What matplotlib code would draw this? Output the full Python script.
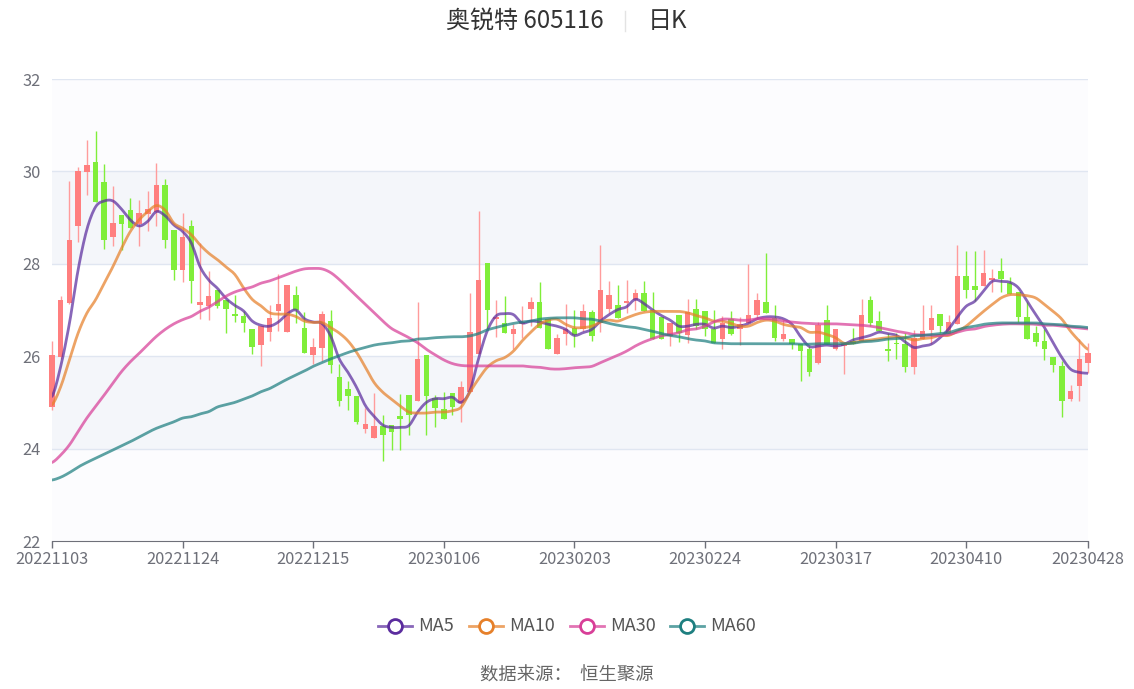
import matplotlib
matplotlib.use('Agg')
import matplotlib.pyplot as plt
from matplotlib.lines import Line2D
import numpy as np
import pandas as pd

plt.rcParams['font.family'] = ['Noto Sans CJK SC', 'DejaVu Sans']

# trading calendar (SSE holidays removed)
holidays = ['2023-01-02', '2023-01-23', '2023-01-24', '2023-01-25',
            '2023-01-26', '2023-01-27', '2023-04-05']
days = pd.bdate_range('2022-11-03', '2023-04-28')
days = days[~days.isin(pd.to_datetime(holidays))]
date_labels = [d.strftime('%Y%m%d') for d in days]

# daily K: open, high, low, close
opens = [24.91, 25.98, 27.16, 28.81, 29.99, 30.20, 29.77, 28.59, 29.05, 29.16,
         28.87, 29.08, 29.13, 29.71, 28.74, 27.86, 28.82, 27.11, 27.08, 27.44,
         27.22, 26.91, 26.88, 26.58, 26.24, 26.53, 26.98, 26.53, 27.32, 26.62,
         26.02, 26.17, 26.76, 25.54, 25.30, 25.14, 24.42, 24.24, 24.50, 24.51,
         24.70, 25.15, 25.02, 26.02, 25.10, 24.86, 25.20, 24.99, 25.23, 26.04,
         28.01, 26.81, 26.71, 26.49, 26.70, 27.03, 27.17, 26.80, 26.04, 26.47,
         26.62, 26.58, 26.95, 26.72, 27.03, 27.10, 27.15, 27.21, 27.37, 27.01,
         26.85, 26.44, 26.90, 26.45, 27.02, 26.97, 26.59, 26.38, 26.81, 26.58,
         26.71, 26.90, 27.17, 26.83, 26.38, 26.38, 26.26, 26.16, 25.86, 26.78,
         26.16, 26.22, 26.33, 26.33, 27.21, 26.76, 26.16, 26.28, 26.26, 25.76,
         26.37, 26.56, 26.92, 26.47, 26.69, 27.73, 27.53, 27.53, 27.66, 27.84,
         27.58, 27.40, 26.85, 26.51, 26.33, 25.99, 25.78, 25.08, 25.35, 25.85]
highs = [26.32, 27.31, 29.80, 30.09, 30.69, 30.87, 30.16, 29.68, 29.05, 29.42,
         29.39, 29.57, 30.18, 29.83, 28.74, 29.10, 28.95, 28.45, 27.85, 27.44,
         27.22, 27.32, 26.98, 26.58, 26.65, 27.10, 27.79, 27.55, 27.53, 26.96,
         26.40, 26.98, 27.00, 25.83, 25.47, 25.14, 24.87, 25.20, 24.73, 24.51,
         25.19, 25.15, 27.17, 26.02, 25.16, 25.23, 25.20, 25.47, 27.37, 29.14,
         28.01, 27.21, 27.30, 26.69, 27.08, 27.28, 27.60, 26.80, 26.47, 27.12,
         27.01, 27.12, 27.01, 28.41, 27.62, 27.55, 27.66, 27.46, 27.62, 27.40,
         26.85, 26.72, 26.90, 27.23, 27.24, 26.97, 27.00, 26.87, 26.97, 26.85,
         28.00, 27.37, 28.23, 27.10, 26.78, 26.38, 26.26, 26.22, 26.74, 27.10,
         26.58, 26.26, 26.62, 27.24, 27.31, 26.97, 26.51, 26.51, 26.51, 26.57,
         27.10, 27.10, 26.92, 26.90, 28.41, 28.27, 28.27, 28.29, 27.89, 28.12,
         27.71, 27.40, 27.17, 26.65, 26.58, 25.99, 25.90, 25.38, 26.37, 26.29]
lows = [24.84, 25.95, 27.14, 28.48, 29.49, 29.33, 28.32, 28.39, 28.30, 28.77,
        28.39, 28.70, 28.81, 28.34, 27.65, 27.60, 27.16, 26.81, 26.79, 27.04,
        26.51, 26.73, 26.53, 26.04, 25.79, 26.33, 26.55, 26.53, 26.71, 26.06,
        25.83, 25.90, 25.63, 24.93, 24.84, 24.53, 24.34, 24.24, 23.74, 23.96,
        23.96, 24.30, 25.02, 24.29, 24.47, 24.65, 24.72, 24.57, 25.23, 26.04,
        26.58, 26.42, 26.51, 26.16, 26.40, 26.65, 26.62, 26.15, 26.04, 26.24,
        26.19, 26.54, 26.33, 26.52, 26.94, 26.83, 26.94, 27.01, 26.97, 26.37,
        26.38, 26.22, 26.31, 26.29, 26.59, 26.44, 26.28, 26.15, 26.45, 26.24,
        26.71, 26.80, 26.94, 26.33, 26.33, 26.16, 25.47, 25.58, 25.83, 26.26,
        26.14, 25.61, 26.26, 26.33, 26.65, 26.54, 25.90, 25.94, 25.65, 25.61,
        26.37, 26.26, 26.51, 26.47, 26.69, 27.26, 27.19, 27.53, 27.40, 27.40,
        27.35, 26.74, 26.38, 26.22, 25.92, 25.66, 24.68, 25.04, 25.02, 25.63]
closes = [26.03, 27.22, 28.52, 30.00, 30.14, 29.33, 28.52, 28.88, 28.87, 28.77,
          29.10, 29.18, 29.71, 28.52, 27.86, 28.59, 27.62, 27.18, 27.31, 27.08,
          27.03, 26.87, 26.71, 26.19, 26.65, 26.83, 27.14, 27.55, 27.01, 26.06,
          26.19, 26.91, 25.81, 25.04, 25.13, 24.57, 24.53, 24.48, 24.30, 24.35,
          24.65, 24.72, 25.95, 25.13, 24.87, 24.65, 24.90, 25.33, 26.53, 27.66,
          27.00, 26.85, 26.51, 26.59, 26.74, 27.17, 26.62, 26.15, 26.40, 26.58,
          26.45, 26.97, 26.44, 27.43, 27.33, 26.83, 27.19, 27.37, 26.97, 26.37,
          26.38, 26.72, 26.51, 26.95, 26.65, 26.58, 26.28, 26.71, 26.47, 26.69,
          26.90, 27.21, 26.94, 26.40, 26.49, 26.26, 26.11, 25.66, 26.67, 26.26,
          26.58, 26.26, 26.26, 26.90, 26.72, 26.54, 26.11, 26.26, 25.76, 26.40,
          26.54, 26.83, 26.65, 26.74, 27.73, 27.44, 27.43, 27.81, 27.69, 27.67,
          27.35, 26.85, 26.38, 26.31, 26.16, 25.81, 25.02, 25.25, 25.94, 26.06]

ma5 = [25.13, 25.78, 26.71, 27.87, 28.74, 29.23, 29.36, 29.36, 29.18, 28.95,
       28.82, 28.92, 29.13, 29.04, 28.84, 28.70, 28.45, 27.94, 27.65, 27.47,
       27.25, 27.10, 26.98, 26.76, 26.67, 26.65, 26.74, 26.91, 27.00, 26.81,
       26.74, 26.71, 26.44, 25.94, 25.65, 25.32, 24.93, 24.70, 24.51, 24.46,
       24.46, 24.50, 24.79, 25.00, 25.08, 25.08, 25.11, 25.00, 25.25, 25.95,
       26.55, 26.87, 26.92, 26.90, 26.72, 26.76, 26.74, 26.69, 26.65, 26.58,
       26.45, 26.51, 26.58, 26.76, 26.90, 27.01, 27.07, 27.23, 27.14, 27.00,
       26.88, 26.78, 26.65, 26.65, 26.69, 26.69, 26.61, 26.65, 26.62, 26.65,
       26.71, 26.81, 26.85, 26.85, 26.81, 26.69, 26.42, 26.21, 26.22, 26.24,
       26.22, 26.26, 26.35, 26.40, 26.45, 26.52, 26.49, 26.45, 26.31, 26.19,
       26.22, 26.26, 26.40, 26.59, 26.85, 27.08, 27.19, 27.41, 27.62, 27.62,
       27.60, 27.48, 27.19, 26.90, 26.62, 26.29, 25.97, 25.72, 25.65, 25.63]
ma10 = [24.95, 25.34, 25.92, 26.50, 26.93, 27.22, 27.58, 27.94, 28.34, 28.70,
        28.95, 29.13, 29.26, 29.16, 28.88, 28.77, 28.63, 28.41, 28.23, 28.09,
        27.93, 27.77, 27.48, 27.23, 27.09, 26.94, 26.91, 26.91, 26.86, 26.76,
        26.73, 26.73, 26.62, 26.50, 26.33, 26.08, 25.76, 25.43, 25.22, 25.07,
        24.92, 24.79, 24.77, 24.77, 24.79, 24.79, 24.82, 24.90, 25.22, 25.51,
        25.76, 25.90, 25.97, 26.11, 26.33, 26.52, 26.69, 26.78, 26.80, 26.69,
        26.62, 26.62, 26.65, 26.74, 26.78, 26.76, 26.83, 26.90, 26.95, 26.97,
        26.97, 26.97, 26.97, 26.94, 26.88, 26.83, 26.76, 26.76, 26.71, 26.65,
        26.65, 26.73, 26.78, 26.76, 26.69, 26.65, 26.62, 26.52, 26.52, 26.47,
        26.40, 26.28, 26.29, 26.33, 26.35, 26.38, 26.40, 26.42, 26.40, 26.35,
        26.38, 26.40, 26.45, 26.45, 26.54, 26.65, 26.81, 26.97, 27.12, 27.26,
        27.33, 27.33, 27.31, 27.26, 27.12, 26.97, 26.80, 26.54, 26.33, 26.15]
ma30 = [23.70, 23.86, 24.08, 24.37, 24.66, 24.91, 25.16, 25.42, 25.67, 25.88,
        26.06, 26.25, 26.43, 26.58, 26.70, 26.79, 26.86, 26.97, 27.06, 27.18,
        27.30, 27.39, 27.45, 27.50, 27.58, 27.63, 27.70, 27.77, 27.84, 27.89,
        27.90, 27.89, 27.81, 27.66, 27.48, 27.30, 27.12, 26.94, 26.76, 26.60,
        26.50, 26.40, 26.29, 26.15, 26.03, 25.92, 25.84, 25.80, 25.79, 25.79,
        25.79, 25.79, 25.79, 25.79, 25.79, 25.77, 25.76, 25.73, 25.72, 25.73,
        25.75, 25.76, 25.78, 25.86, 25.94, 26.02, 26.11, 26.22, 26.31, 26.38,
        26.44, 26.47, 26.51, 26.57, 26.59, 26.65, 26.74, 26.80, 26.80, 26.78,
        26.78, 26.81, 26.81, 26.80, 26.76, 26.74, 26.72, 26.71, 26.70, 26.70,
        26.70, 26.69, 26.68, 26.67, 26.65, 26.62, 26.58, 26.54, 26.51, 26.47,
        26.46, 26.45, 26.45, 26.47, 26.52, 26.57, 26.59, 26.64, 26.67, 26.69,
        26.70, 26.70, 26.70, 26.69, 26.67, 26.67, 26.65, 26.63, 26.61, 26.59]
ma60 = [23.32, 23.38, 23.48, 23.60, 23.70, 23.79, 23.88, 23.97, 24.06, 24.15,
        24.25, 24.35, 24.44, 24.51, 24.58, 24.66, 24.69, 24.75, 24.80, 24.90,
        24.95, 25.00, 25.07, 25.14, 25.23, 25.30, 25.40, 25.50, 25.59, 25.68,
        25.78, 25.86, 25.94, 26.01, 26.08, 26.14, 26.19, 26.24, 26.27, 26.29,
        26.32, 26.33, 26.37, 26.38, 26.40, 26.41, 26.42, 26.42, 26.44, 26.49,
        26.57, 26.62, 26.67, 26.71, 26.74, 26.76, 26.80, 26.82, 26.83, 26.83,
        26.83, 26.81, 26.80, 26.76, 26.71, 26.67, 26.64, 26.62, 26.58, 26.54,
        26.49, 26.45, 26.42, 26.38, 26.35, 26.33, 26.29, 26.28, 26.27, 26.27,
        26.27, 26.27, 26.27, 26.27, 26.27, 26.27, 26.26, 26.26, 26.27, 26.27,
        26.27, 26.27, 26.28, 26.31, 26.32, 26.34, 26.37, 26.38, 26.40, 26.44,
        26.45, 26.47, 26.49, 26.51, 26.57, 26.62, 26.65, 26.69, 26.71, 26.72,
        26.72, 26.72, 26.72, 26.72, 26.70, 26.69, 26.68, 26.65, 26.64, 26.62]

ma_names = ['MA5', 'MA10', 'MA30', 'MA60']
ma_colors = ['#5b2c9e', '#e6802a', '#d83f98', '#1e7f80']

UP = '#ff7f7f'
DOWN = '#80ee3a'


def smooth(y, n=8):
    # catmull-rom through the daily points, only for drawing
    y = np.asarray(y, float)
    p = np.concatenate([[y[0]], y, [y[-1]]])
    xs, ys = [], []
    t = np.linspace(0, 1, n, endpoint=False)
    for i in range(len(y) - 1):
        p0, p1, p2, p3 = p[i], p[i + 1], p[i + 2], p[i + 3]
        yy = 0.5 * ((2 * p1) + (-p0 + p2) * t + (2 * p0 - 5 * p1 + 4 * p2 - p3) * t ** 2
                    + (-p0 + 3 * p1 - 3 * p2 + p3) * t ** 3)
        xs.extend(i + t)
        ys.extend(yy)
    xs.append(len(y) - 1)
    ys.append(y[-1])
    return np.array(xs), np.array(ys)


fig = plt.figure(figsize=(11.34, 6.89), dpi=100)
ax = fig.add_axes([52 / 1134, 148 / 689, 1036 / 1134, 462 / 689])

# striped background
bands = [(22, 24, '#fcfcfe'), (24, 26, '#f4f6fa'), (26, 28, '#ffffff'),
         (28, 30, '#f4f6fa'), (30, 32, '#fcfcfe')]
for lo, hi, c in bands:
    ax.axhspan(lo, hi, color=c, zorder=0, lw=0)
for yv in range(24, 33, 2):
    ax.axhline(yv, color='#e0e6f1', lw=1.0, zorder=1)

x = np.arange(len(closes))
for i in x:
    o, h, l, c = opens[i], highs[i], lows[i], closes[i]
    col = UP if c >= o else DOWN
    wick = '#ff9c9c' if c >= o else DOWN
    ax.plot([i, i], [l, h], color=wick, lw=1.0, zorder=2, clip_on=False,
            solid_capstyle='butt')
    body = max(abs(c - o), 0.03)
    ax.bar(i, body, bottom=min(o, c), width=0.64, color=col, lw=0,
           zorder=3, clip_on=False)

for vals, col in zip([ma5, ma10, ma30, ma60], ma_colors):
    sx, sy = smooth(vals)
    ax.plot(sx, sy, color=col, lw=2.0, alpha=0.72, zorder=4,
            solid_capstyle='round')

ax.set_xlim(0, len(closes) - 1)
ax.set_ylim(22, 32)
ax.set_yticks(range(22, 33, 2))
tick_pos = list(range(0, len(closes), 15)) + [len(closes) - 1]
ax.set_xticks(tick_pos)
ax.set_xticklabels([date_labels[p] for p in tick_pos])
ax.tick_params(axis='y', length=0, pad=8, labelsize=11.8, labelcolor='#6e7079')
ax.tick_params(axis='x', length=5, width=1, color='#6e7079', pad=2,
               labelsize=11.8, labelcolor='#6e7079')
for s in ['top', 'right', 'left']:
    ax.spines[s].set_visible(False)
ax.spines['bottom'].set_color('#6e7079')
ax.spines['bottom'].set_zorder(5)

# title
fig.text(525 / 1134, 1 - 21 / 689, '奥锐特 605116', ha='center', va='center',
         fontsize=17.3, color='#333333')
fig.text(667 / 1134, 1 - 21 / 689, '日K', ha='center', va='center',
         fontsize=17.3, color='#333333')
fig.add_artist(Line2D([625 / 1134, 625 / 1134], [1 - 11 / 689, 1 - 31 / 689],
                      color='#e3e3e3', lw=1, transform=fig.transFigure))

# legend
leg_x = [395, 486, 587, 687]
ly = 1 - 626 / 689
for cx, name, col in zip(leg_x, ma_names, ma_colors):
    fig.add_artist(Line2D([(cx - 17) / 1134, (cx + 17) / 1134], [ly, ly],
                          color=col, lw=2, alpha=0.72, transform=fig.transFigure))
    fig.add_artist(Line2D([cx / 1134], [ly], marker='o', markersize=10,
                          markerfacecolor='white', markeredgecolor=col,
                          markeredgewidth=2, transform=fig.transFigure))
    fig.text((cx + 23) / 1134, ly, name, ha='left', va='center',
             fontsize=13, color='#555555')

fig.text(567 / 1134, 1 - 676 / 689, '数据来源：  恒生聚源', ha='center', va='center',
         fontsize=13.2, color='#666666')

fig.savefig('out.png', dpi=100, facecolor='white')
